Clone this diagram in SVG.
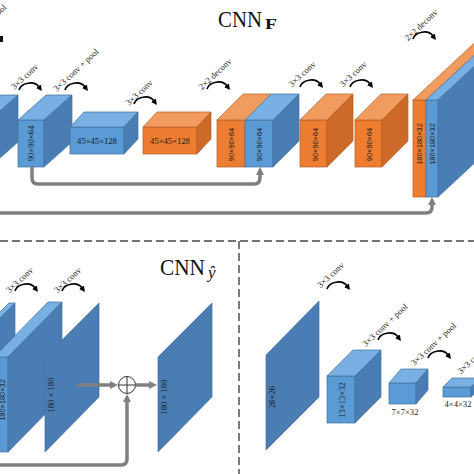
<svg xmlns="http://www.w3.org/2000/svg" width="474" height="474" viewBox="0 0 474 474">
<style>
.bf{fill:#5b9bd5;stroke:#41719c;stroke-width:0.7}
.bt{fill:#78b0e3;stroke:#41719c;stroke-width:0.7}
.bs{fill:#4a7db4;stroke:#41719c;stroke-width:0.7}
.of{fill:#ed7d31;stroke:#b15e25;stroke-width:0.7}
.ot{fill:#f29b5e;stroke:#b15e25;stroke-width:0.7}
.os{fill:#cd6a2a;stroke:#b15e25;stroke-width:0.7}
.sl{fill:#4a7db4;stroke:#41719c;stroke-width:0.7}
.lbl{font-family:"Liberation Serif","DejaVu Serif",serif;font-size:8.8px;fill:#222;text-anchor:middle}
.dim{font-family:"Liberation Serif","DejaVu Serif",serif;font-size:8.6px;fill:#1a1a1a;text-anchor:middle}
.dims{font-family:"Liberation Sans","DejaVu Sans",sans-serif;font-size:7.4px;fill:#1a1a1a;text-anchor:middle}
.arc{fill:none;stroke:#000;stroke-width:1.7;marker-end:url(#bh)}
.gc{fill:none;stroke:#7f7f7f;stroke-width:3.5;marker-end:url(#gh)}
.title{font-family:"Liberation Serif","DejaVu Serif",serif;fill:#111}
.sep{fill:none;stroke:#444;stroke-width:1.4;stroke-dasharray:8 4}
</style>
<defs>
<marker id="bh" markerUnits="userSpaceOnUse" markerWidth="6" markerHeight="6" viewBox="0 0 6 6" refX="1" refY="3" orient="auto"><path d="M0,0 L6,3 L0,6 z" fill="#000"/></marker>
<marker id="gh" markerUnits="userSpaceOnUse" markerWidth="8" markerHeight="8" viewBox="0 0 8 8" refX="1" refY="4" orient="auto"><path d="M0,0 L8,4 L0,8 z" fill="#7f7f7f"/></marker>
</defs>
<rect x="0" y="0" width="474" height="474" fill="#fff"/>

<!-- separators -->
<g id="separators">
<path class="sep" d="M0,241 H474"/>
<path class="sep" d="M239,241 V474"/>
</g>

<!-- titles -->
<g id="title-cnnF">
<text class="title" x="218" y="27" font-size="24" textLength="44" lengthAdjust="spacingAndGlyphs">CNN</text>
<text class="title" x="265" y="28.5" font-size="14" font-weight="bold" textLength="12" lengthAdjust="spacingAndGlyphs">F</text>
</g>
<g id="title-cnnY">
<text class="title" x="160" y="275" font-size="24" textLength="45" lengthAdjust="spacingAndGlyphs">CNN</text>
<text class="title" x="208" y="278" font-size="17" font-style="italic">ŷ</text>
</g>
<rect x="0" y="36" width="3" height="6" fill="#111"/>

<!-- top row blocks -->
<g id="blockA">
<rect class="bf" x="-36" y="120" width="26" height="47"/>
<polygon class="bt" points="-36,120 -10,120 18,95 -8,95"/>
<polygon class="bs" points="-10,120 18,95 18,142 -10,167"/>
</g>
<g id="blockB">
<rect class="bf" x="18" y="120" width="26" height="47"/>
<polygon class="bt" points="18,120 44,120 72,95 46,95"/>
<polygon class="bs" points="44,120 72,95 72,142 44,167"/>
<text class="dim" transform="translate(31,143.5) rotate(-90)" y="3">90×90×64</text>
</g>
<g id="blockC">
<rect class="bf" x="70" y="127" width="54" height="27"/>
<polygon class="bt" points="70,127 124,127 138,112 84,112"/>
<polygon class="bs" points="124,127 138,112 138,139 124,154"/>
<text class="dim" x="97" y="144">45×45×128</text>
</g>
<g id="blockD">
<rect class="of" x="143" y="127" width="54" height="27"/>
<polygon class="ot" points="143,127 197,127 211,112 157,112"/>
<polygon class="os" points="197,127 211,112 211,139 197,154"/>
<text class="dim" x="170" y="144">45×45×128</text>
</g>
<g id="blockE">
<rect class="of" x="217" y="120" width="28" height="47"/>
<rect class="bf" x="245" y="120" width="28" height="47"/>
<polygon class="ot" points="217,120 245,120 271,94 243,94"/>
<polygon class="bt" points="245,120 273,120 299,94 271,94"/>
<polygon class="bs" points="273,120 299,94 299,141 273,167"/>
<text class="dims" transform="translate(231,144.5) rotate(-90)" y="2.5">90×90×64</text>
<text class="dims" transform="translate(259.5,144.5) rotate(-90)" y="2.5">90×90×64</text>
</g>
<g id="blockF">
<rect class="of" x="300" y="120" width="27" height="47"/>
<polygon class="ot" points="300,120 327,120 353,94 326,94"/>
<polygon class="os" points="327,120 353,94 353,141 327,167"/>
<text class="dims" transform="translate(315.5,144.5) rotate(-90)" y="2.5">90×90×64</text>
</g>
<g id="blockG">
<rect class="of" x="355" y="120" width="27" height="47"/>
<polygon class="ot" points="355,120 382,120 408,94 381,94"/>
<polygon class="os" points="382,120 408,94 408,141 382,167"/>
<text class="dims" transform="translate(369.5,144.5) rotate(-90)" y="2.5">90×90×64</text>
</g>
<g id="blockH">
<rect class="of" x="413" y="100" width="13" height="97"/>
<rect class="bf" x="426" y="100" width="12" height="97"/>
<polygon class="ot" points="413,100 426,100 496,35 483,35"/>
<polygon class="bt" points="426,100 438,100 508,35 496,35"/>
<polygon class="bs" points="438,100 508,35 508,132 438,197"/>
<text class="dims" transform="translate(419.5,144) rotate(-90)" y="2.5">180×180×32</text>
<text class="dims" transform="translate(432,144) rotate(-90)" y="2.5">180×180×32</text>
</g>

<!-- bottom-left blocks -->
<g id="slab1">
<polygon class="sl" points="-39,357 15,303 15,397 -39,451"/>
<polygon class="bt" points="-45,357 -39,357 15,303 9,303"/>
</g>
<g id="block2">
<rect class="bf" x="-6" y="357" width="14" height="95"/>
<polygon class="bt" points="-6,357 8,357 62,302 48,302"/>
<polygon class="bs" points="8,357 62,302 62,397 8,452"/>
<text class="dims" transform="translate(2.5,400) rotate(-90)" y="2.5">180×180×32</text>
</g>
<g id="slab3">
<polygon class="sl" points="45,357 99,303 99,397 45,452"/>
<text class="dim" transform="translate(51,395) rotate(-90)" y="3">180 × 180</text>
</g>
<g id="slabOut">
<polygon class="sl" points="158,357 212,303 212,397 158,452"/>
<text class="dim" transform="translate(164,397) rotate(-90)" y="3">180 × 180</text>
</g>
<g id="sum">
<circle cx="127" cy="385" r="8.5" fill="#fff" stroke="#333" stroke-width="1"/>
<path d="M118.5,385 H135.5 M127,376.5 V393.5" stroke="#333" stroke-width="1"/>
</g>

<!-- bottom-right blocks -->
<g id="slab26">
<polygon class="sl" points="266,355 319,301 319,397 266,450"/>
<text class="dim" transform="translate(271.5,397) rotate(-90)" y="3">26×26</text>
</g>
<g id="block13">
<rect class="bf" x="327" y="376" width="28" height="47"/>
<polygon class="bt" points="327,376 355,376 381,350 353,350"/>
<polygon class="bs" points="355,376 381,350 381,397 355,423"/>
<text class="dim" transform="translate(342,400) rotate(-90)" y="3">13×13×32</text>
</g>
<g id="block7">
<rect class="bf" x="389" y="383" width="27" height="21"/>
<polygon class="bt" points="389,383 416,383 428,369 401,369"/>
<polygon class="bs" points="416,383 428,369 428,390 416,404"/>
<text class="dim" x="405" y="415">7×7×32</text>
</g>
<g id="block4">
<rect class="bf" x="443" y="387" width="28" height="10"/>
<polygon class="bt" points="443,387 471,387 480,378 452,378"/>
<polygon class="bs" points="471,387 480,378 480,388 471,397"/>
<text class="dim" x="458" y="407">4×4×32</text>
</g>

<!-- operation labels -->
<g id="op-labels">
<text class="lbl" transform="translate(5,6) rotate(-43)" y="3" style="text-anchor:end">3×3 conv + pool</text>
<text class="lbl" transform="translate(24.5,76.5) rotate(-43)" y="3">3×3 conv</text>
<text class="lbl" transform="translate(76,70) rotate(-43)" y="3">3×3 conv + pool</text>
<text class="lbl" transform="translate(139,92.5) rotate(-43)" y="3">3×3 conv</text>
<text class="lbl" transform="translate(215,74) rotate(-43)" y="3">2×2 deconv</text>
<text class="lbl" transform="translate(302,74) rotate(-43)" y="3">3×3 conv</text>
<text class="lbl" transform="translate(353,74) rotate(-43)" y="3">3×3 conv</text>
<text class="lbl" transform="translate(421,25) rotate(-43)" y="3">2×2 deconv</text>
<text class="lbl" transform="translate(19.5,280) rotate(-43)" y="3">3×3 conv</text>
<text class="lbl" transform="translate(67.5,280) rotate(-43)" y="3">3×3 conv</text>
<text class="lbl" transform="translate(330.5,275) rotate(-43)" y="3">3×3 conv</text>
<text class="lbl" transform="translate(385,325) rotate(-43)" y="3">3×3 conv + pool</text>
<text class="lbl" transform="translate(433.5,344) rotate(-43)" y="3">3×3 conv + pool</text>
<text class="lbl" transform="translate(471,361) rotate(-43)" y="3">3×3 conv</text>
</g>

<!-- connectors -->
<g id="connectors">
<path class="arc" transform="translate(19,82)" d="M0,8 C2,1 15,-2 20,5"/>
<path class="arc" transform="translate(65,82)" d="M0,8 C2,1 15,-2 20,5"/>
<path class="arc" transform="translate(134,96)" d="M0,8 C2,1 15,-2 20,5"/>
<path class="arc" transform="translate(207,81)" d="M0,8 C2,1 15,-2 20,5"/>
<path class="arc" transform="translate(300,79)" d="M0,8 C2,1 15,-2 20,5"/>
<path class="arc" transform="translate(350,79)" d="M0,8 C2,1 15,-2 20,5"/>
<path class="arc" transform="translate(413,31)" d="M0,8 C2,1 15,-2 20,5"/>
<path class="arc" transform="translate(15,283)" d="M0,8 C2,1 15,-2 20,5"/>
<path class="arc" transform="translate(62,283)" d="M0,8 C2,1 15,-2 20,5"/>
<path class="arc" transform="translate(327,281)" d="M0,8 C2,1 15,-2 20,5"/>
<path class="arc" transform="translate(378,332)" d="M0,8 C2,1 15,-2 20,5"/>
<path class="arc" transform="translate(428,350)" d="M0,8 C2,1 15,-2 20,5"/>
<path class="gc" d="M32,167 V178 Q32,184 38,184 H254 Q260,184 260,178 V174"/>
<path class="gc" d="M-5,213 H426 Q432,213 432,207 V204"/>
<path class="gc" d="M77,385 H111"/>
<path class="gc" d="M135.5,385 H150"/>
<path class="gc" d="M-5,465 H121 Q127,465 127,459 V401"/>
</g>
</svg>
